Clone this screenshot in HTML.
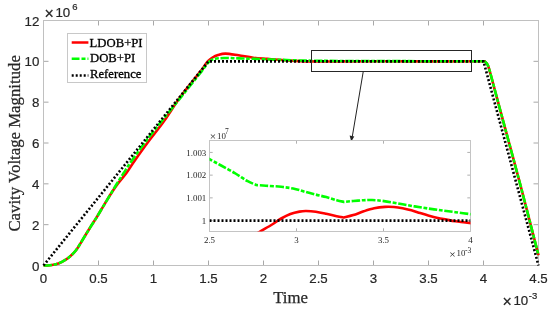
<!DOCTYPE html>
<html><head><meta charset="utf-8"><style>
html,body{margin:0;padding:0;background:#fff;}
body{width:550px;height:312px;overflow:hidden;}
svg{display:block;}
.sans{font-family:"Liberation Sans",Arial,sans-serif;}
.serif{font-family:"Liberation Serif","Times New Roman",serif;}
</style></head><body>
<svg width="550" height="312" viewBox="0 0 550 312">
<rect x="0" y="0" width="550" height="312" fill="#fff"/>
<defs>
<clipPath id="cm"><rect x="41" y="18" width="500" height="250"/></clipPath>
<clipPath id="ci"><rect x="209.5" y="140.5" width="261.0" height="91.0"/></clipPath>
</defs>
<!-- main axes -->
<path d="M43.50,265.50v-5.0 M43.50,20.50v5.0 M98.50,265.50v-5.0 M98.50,20.50v5.0 M153.50,265.50v-5.0 M153.50,20.50v5.0 M208.50,265.50v-5.0 M208.50,20.50v5.0 M263.50,265.50v-5.0 M263.50,20.50v5.0 M318.50,265.50v-5.0 M318.50,20.50v5.0 M373.50,265.50v-5.0 M373.50,20.50v5.0 M428.50,265.50v-5.0 M428.50,20.50v5.0 M483.50,265.50v-5.0 M483.50,20.50v5.0 M538.50,265.50v-5.0 M538.50,20.50v5.0 M43.50,265.50h5.0 M538.50,265.50h-5.0 M43.50,224.67h5.0 M538.50,224.67h-5.0 M43.50,183.83h5.0 M538.50,183.83h-5.0 M43.50,143.00h5.0 M538.50,143.00h-5.0 M43.50,102.17h5.0 M538.50,102.17h-5.0 M43.50,61.33h5.0 M538.50,61.33h-5.0 M43.50,20.50h5.0 M538.50,20.50h-5.0" stroke="#a8a8a8" stroke-width="1" fill="none"/>
<rect x="43.5" y="20.5" width="495.0" height="245.0" fill="none" stroke="#c0c0c0" stroke-width="1"/>
<g clip-path="url(#cm)" fill="none" stroke-linejoin="round">
<path d="M43.50,265.50 C44.58,265.45 47.92,265.42 50.00,265.20 C52.08,264.98 54.00,264.77 56.00,264.20 C58.00,263.63 59.87,262.92 62.00,261.80 C64.13,260.68 66.47,259.43 68.80,257.50 C71.13,255.57 73.57,253.37 76.00,250.20 C78.43,247.03 81.05,242.27 83.40,238.50 C85.75,234.73 87.87,231.17 90.10,227.60 C92.33,224.03 94.57,220.72 96.80,217.10 C99.03,213.48 101.25,209.63 103.50,205.90 C105.75,202.17 107.89,198.43 110.30,194.70 C112.71,190.97 115.29,187.12 117.97,183.50 C120.66,179.88 123.76,176.62 126.42,173.00 C129.09,169.38 130.28,167.03 133.95,161.80 C137.61,156.57 143.47,148.30 148.43,141.60 C153.40,134.90 158.37,129.10 163.73,121.60 C169.09,114.10 174.51,104.93 180.61,96.60 C186.71,88.27 196.34,76.77 200.34,71.60 C204.33,66.43 203.29,67.40 204.60,65.60 C205.91,63.80 206.88,62.15 208.20,60.80 C209.52,59.45 210.87,58.47 212.50,57.50 C214.13,56.53 215.83,55.65 218.00,55.00 C220.17,54.35 222.07,53.55 225.50,53.60 C228.93,53.65 233.98,54.62 238.60,55.30 C243.22,55.98 248.35,57.10 253.20,57.70 C258.05,58.30 262.40,58.48 267.70,58.90 C273.00,59.32 277.95,59.78 285.00,60.20 C292.05,60.62 300.83,61.20 310.00,61.40 C319.17,61.60 328.33,61.42 340.00,61.40 C351.67,61.38 365.00,61.30 380.00,61.30 C395.00,61.30 413.33,61.40 430.00,61.40 C446.67,61.40 471.08,61.32 480.00,61.30 C488.92,61.28 482.58,61.18 483.50,61.30 C484.42,61.42 484.83,61.47 485.50,62.00 C486.17,62.53 486.75,62.83 487.50,64.50 C488.25,66.17 487.92,64.52 490.00,72.00 C492.08,79.48 495.00,90.80 500.00,109.40 C505.00,128.00 513.58,159.28 520.00,183.60 C526.42,207.92 535.42,243.35 538.50,255.30" stroke="#ff0000" stroke-width="2.6"/>
<path d="M43.50,265.50 C44.58,265.45 47.92,265.42 50.00,265.20 C52.08,264.98 54.00,264.77 56.00,264.20 C58.00,263.63 59.87,262.92 62.00,261.80 C64.13,260.68 66.47,259.43 68.80,257.50 C71.13,255.57 73.57,253.37 76.00,250.20 C78.43,247.03 81.05,242.27 83.40,238.50 C85.75,234.73 87.87,231.17 90.10,227.60 C92.33,224.03 94.57,220.72 96.80,217.10 C99.03,213.48 101.25,209.63 103.50,205.90 C105.75,202.17 108.05,198.43 110.30,194.70 C112.55,190.97 114.77,187.12 117.00,183.50 C119.23,179.88 121.37,176.62 123.70,173.00 C126.03,169.38 127.35,167.03 131.00,161.80 C134.65,156.57 140.55,148.30 145.60,141.60 C150.65,134.90 155.33,129.10 161.30,121.60 C167.27,114.10 174.72,104.93 181.40,96.60 C188.08,88.27 197.00,77.17 201.40,71.60 C205.80,66.03 205.95,65.23 207.80,63.20 C209.65,61.17 209.80,60.27 212.50,59.40 C215.20,58.53 219.65,58.17 224.00,58.00 C228.35,57.83 233.77,58.27 238.60,58.40 C243.43,58.53 246.93,58.60 253.00,58.80 C259.07,59.00 267.17,59.32 275.00,59.60 C282.83,59.88 290.83,60.28 300.00,60.50 C309.17,60.72 316.67,60.80 330.00,60.90 C343.33,61.00 363.33,61.05 380.00,61.10 C396.67,61.15 413.33,61.17 430.00,61.20 C446.67,61.23 471.08,61.28 480.00,61.30 C488.92,61.32 482.58,61.18 483.50,61.30 C484.42,61.42 484.83,61.47 485.50,62.00 C486.17,62.53 486.75,62.83 487.50,64.50 C488.25,66.17 487.92,64.52 490.00,72.00 C492.08,79.48 495.00,90.80 500.00,109.40 C505.00,128.00 513.58,159.28 520.00,183.60 C526.42,207.92 535.42,243.35 538.50,255.30" stroke="#00ff00" stroke-width="2.6" stroke-dasharray="8.4 1.7 3.8 1.7"/>
<path d="M43.50,265.50 L208.50,61.33 L483.50,61.33 L538.50,265.50" stroke="#000" stroke-width="2.6" stroke-dasharray="2 2"/>
</g>
<g class="sans" font-size="13.3" fill="#262626" stroke="#262626" stroke-width="0.2">
<g text-anchor="middle"><text x="43.50" y="283.4">0</text><text x="98.50" y="283.4">0.5</text><text x="153.50" y="283.4">1</text><text x="208.50" y="283.4">1.5</text><text x="263.50" y="283.4">2</text><text x="318.50" y="283.4">2.5</text><text x="373.50" y="283.4">3</text><text x="428.50" y="283.4">3.5</text><text x="483.50" y="283.4">4</text><text x="538.50" y="283.4">4.5</text></g>
<g text-anchor="end"><text x="39.3" y="270.55">0</text><text x="39.3" y="229.72">2</text><text x="39.3" y="188.88">4</text><text x="39.3" y="148.05">6</text><text x="39.3" y="107.22">8</text><text x="39.3" y="66.38">10</text><text x="39.3" y="25.55">12</text></g>
<text x="44.4" y="18.95" font-size="16">×</text><text x="55.4" y="17.0">10</text><text x="72.3" y="10.2" font-size="9.5">6</text>
<text x="502.4" y="306.95" font-size="16">×</text><text x="513.4" y="305.4">10</text><text x="528.8" y="298.5" font-size="9.5">-3</text>
</g>
<g class="serif" fill="#262626" stroke="#262626" stroke-width="0.25">
<text x="290.6" y="302.9" font-size="16.8" text-anchor="middle">Time</text>
<text transform="translate(19.8,143.35) rotate(-90)" font-size="16.8" text-anchor="middle">Cavity Voltage Magnitude</text>
</g>
<!-- zoom rectangle and arrow -->
<rect x="311.5" y="50.5" width="160" height="21" fill="none" stroke="#262626" stroke-width="1"/>
<path d="M363.3,71.2 L352.3,136.5" stroke="#222" stroke-width="1"/>
<path d="M351.3,141.4 L349.6,135.6 L354.3,136.4 Z" fill="#222"/>
<!-- legend -->
<rect x="67.5" y="33.5" width="79" height="49" fill="#fff" stroke="#c8c8c8" stroke-width="1"/>
<path d="M71.7,42.5 H88.4" stroke="#ff0000" stroke-width="2.5"/>
<path d="M71.7,58.8 H88.4" stroke="#00ff00" stroke-width="2.5" stroke-dasharray="7.8 2 4 2"/>
<path d="M71.7,75.6 H88.4" stroke="#000" stroke-width="2.5" stroke-dasharray="2 2"/>
<g class="serif" font-size="12.7" fill="#000" stroke="#000" stroke-width="0.3">
<text x="89.6" y="46.6">LDOB+PI</text>
<text x="90.0" y="62.4">DOB+PI</text>
<text x="90.0" y="78.2">Reference</text>
</g>
<!-- inset -->
<rect x="209.5" y="140.5" width="261.0" height="91.0" fill="#fff" stroke="none"/>
<path d="M209.50,231.50v-3.2 M209.50,140.50v3.2 M296.50,231.50v-3.2 M296.50,140.50v3.2 M383.50,231.50v-3.2 M383.50,140.50v3.2 M470.50,231.50v-3.2 M470.50,140.50v3.2 M209.50,220.60h3.2 M470.50,220.60h-3.2 M209.50,197.87h3.2 M470.50,197.87h-3.2 M209.50,175.14h3.2 M470.50,175.14h-3.2 M209.50,152.41h3.2 M470.50,152.41h-3.2" stroke="#b0b0b0" stroke-width="1" fill="none"/>
<rect x="209.5" y="140.5" width="261.0" height="91.0" fill="none" stroke="#c4c4c4" stroke-width="1"/>
<g clip-path="url(#ci)" fill="none" stroke-linejoin="round">
<path d="M250.00,237.80 C251.55,236.83 255.62,234.22 259.30,232.00 C262.98,229.78 268.45,226.75 272.10,224.50 C275.75,222.25 278.15,220.25 281.20,218.50 C284.25,216.75 287.35,215.15 290.40,214.00 C293.45,212.85 296.90,212.10 299.50,211.60 C302.10,211.10 303.28,210.98 306.00,211.00 C308.72,211.02 312.43,211.24 315.80,211.70 C319.18,212.16 322.77,212.99 326.25,213.75 C329.73,214.51 333.74,215.62 336.70,216.25 C339.66,216.88 342.78,217.29 344.00,217.50 L344.00,217.50 C345.55,217.10 350.01,216.13 353.30,215.10 C356.59,214.07 360.27,212.43 363.75,211.30 C367.23,210.17 370.66,209.03 374.20,208.30 C377.74,207.57 381.73,207.12 385.00,206.90 C388.27,206.68 390.87,206.78 393.80,207.00 C396.73,207.22 399.67,207.65 402.60,208.20 C405.53,208.75 408.47,209.48 411.40,210.30 C414.33,211.12 417.27,212.20 420.20,213.10 C423.13,214.00 426.07,214.90 429.00,215.70 C431.93,216.50 434.87,217.25 437.80,217.90 C440.73,218.55 443.67,219.03 446.60,219.60 C449.53,220.17 450.67,220.63 455.40,221.30 C460.13,221.97 471.73,223.22 475.00,223.60" stroke="#ff0000" stroke-width="2.6"/>
<path d="M205.00,156.60 C205.75,157.03 206.97,157.80 209.50,159.20 C212.03,160.60 215.87,162.62 220.20,165.00 C224.53,167.38 230.92,170.80 235.50,173.50 C240.08,176.20 244.15,179.27 247.70,181.20 C251.25,183.13 255.28,184.45 256.80,185.10 L256.80,185.10 C258.33,185.20 261.93,185.42 266.00,185.70 C270.07,185.98 276.37,186.27 281.20,186.80 C286.03,187.33 290.97,188.05 295.00,188.90 C299.03,189.75 301.93,190.95 305.40,191.90 C308.87,192.85 312.32,193.73 315.80,194.60 C319.28,195.47 322.77,196.17 326.25,197.10 C329.73,198.03 333.74,199.40 336.70,200.20 C339.66,201.00 342.78,201.62 344.00,201.90 L344.00,201.90 C345.55,201.75 350.01,201.28 353.30,201.00 C356.59,200.72 360.62,200.37 363.75,200.20 C366.88,200.03 368.73,199.85 372.10,200.00 C375.48,200.15 378.92,200.38 384.00,201.10 C389.08,201.82 396.57,203.27 402.60,204.30 C408.63,205.33 414.33,206.37 420.20,207.30 C426.07,208.23 431.93,209.08 437.80,209.90 C443.67,210.72 449.20,211.38 455.40,212.20 C461.60,213.02 471.73,214.37 475.00,214.80" stroke="#00ff00" stroke-width="2.6" stroke-dasharray="8.4 1.7 3.8 1.7"/>
<path d="M209.5,220.60 H470.5" stroke="#000" stroke-width="2.6" stroke-dasharray="2 2"/>
</g>
<g class="serif" font-size="8.9" fill="#262626">
<g text-anchor="middle"><text x="209.50" y="242.9">2.5</text><text x="296.50" y="242.9">3</text><text x="383.50" y="242.9">3.5</text><text x="470.50" y="242.9">4</text></g>
<g text-anchor="end"><text x="206.3" y="223.80">1</text><text x="206.3" y="201.07">1.001</text><text x="206.3" y="178.34">1.002</text><text x="206.3" y="155.61">1.003</text></g>
<text x="209.76" y="140.16" font-size="11.3">×</text><text x="217.0" y="138.5">10</text><text x="224.9" y="134.2" font-size="7.5">7</text>
<text x="449.2" y="257.96" font-size="11.3">×</text><text x="456.45" y="256.3">10</text><text x="464.9" y="253.3" font-size="7.5">-3</text>
</g>
</svg>
</body></html>
